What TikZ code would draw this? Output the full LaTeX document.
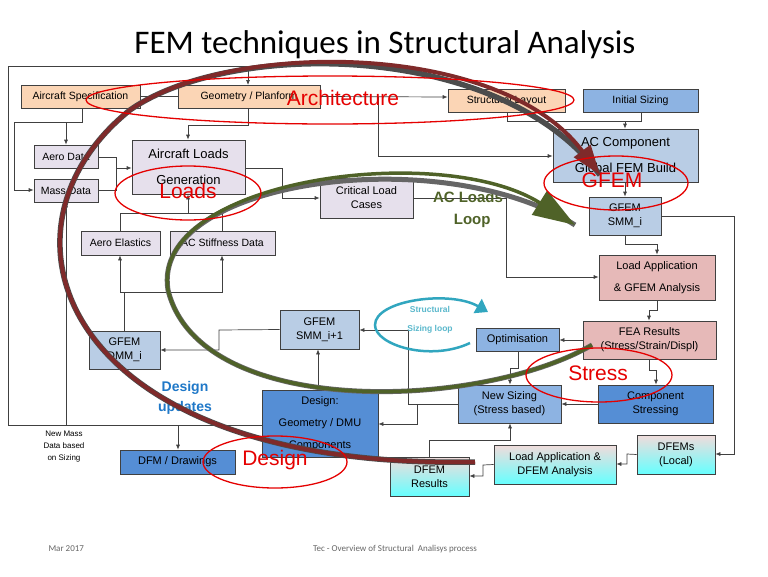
\documentclass[tikz,border=0pt]{standalone}
\usepackage{fontspec}
\setmainfont{Liberation Sans}
\newfontfamily\titlefont{Carlito}
\usetikzlibrary{arrows.meta}
\definecolor{peach}{HTML}{FBD5B5}
\definecolor{lav}{HTML}{E6E0EC}
\definecolor{lblue}{HTML}{B9CDE5}
\definecolor{mblue}{HTML}{8DB3E2}
\definecolor{dblue}{HTML}{558ED5}
\definecolor{pinkb}{HTML}{E6B9B8}
\definecolor{gradtop}{HTML}{F2DCDB}
\definecolor{gradbot}{HTML}{66FFFF}
\definecolor{brownarc}{HTML}{7F2A2A}
\definecolor{greenarc}{HTML}{4F6228}
\definecolor{teal}{HTML}{31A6BF}
\definecolor{dupd}{HTML}{1F78C8}
\newcommand\bx[7]{\node[bxs,#6,minimum width={(#4-#2)*1pt},minimum height={(#5-#3)*1pt}] (#1) at ({(#2+#4)/2},{(#3+#5)/2}) {#7};}
\tikzset{
 bxs/.style={draw=black!75,line width=0.7pt,inner sep=0pt,align=center,font=\fontsize{10.5}{14}\selectfont},
 ln/.style={draw=black!75,line width=0.7pt},
 ar/.style={ln,-{Latex[length=5pt,width=4pt]}},
 redell/.style={draw=red!90!black,line width=1.3pt},
 redtxt/.style={text=red!90!black,font=\fontsize{21}{21}\selectfont},
}
\begin{document}
\begin{tikzpicture}[x=1pt,y=-1pt]
\useasboundingbox (0,0) rectangle (768,576);
\fill[white] (0,0) rectangle (768,576);
\node[font=\titlefont\fontsize{33}{33}\selectfont] (title) at (385,45) {FEM techniques in Structural Analysis};
\node[font=\titlefont\fontsize{9}{9}\selectfont,text=black!60,anchor=west] (date) at (45,549) {Mar 2017};
\node[font=\titlefont\fontsize{9}{9}\selectfont,text=black!60] (foot) at (395,549) {Tec - Overview of Structural\ \ Analisys process};

% boxes
\bx{spec}{21}{85}{140}{108}{fill=peach}{Aircraft Specification}
\bx{geom}{178}{85}{320}{108}{fill=peach}{Geometry / Planform}
\bx{slay}{448}{89}{565}{112}{fill=peach}{Structural Layout}
\bx{isz}{583}{89}{698}{112}{fill=mblue}{Initial Sizing}
\bx{aero}{34}{145}{98}{168}{fill=lav}{Aero Data}
\bx{mass}{34}{179}{98}{202}{fill=lav}{Mass Data}
\bx{loads}{132}{140}{245}{194}{fill=lav,font=\fontsize{13}{26}\selectfont}{Aircraft Loads\\Generation}
\bx{clc}{320}{178}{413}{218}{fill=lav,font=\fontsize{11}{14}\selectfont}{Critical Load\\Cases}
\bx{ae}{81}{231}{160}{255}{fill=lav}{Aero Elastics}
\bx{acs}{170}{231}{275}{255}{fill=lav}{AC Stiffness Data}
\bx{acc}{553}{129}{698}{182}{fill=lblue,font=\fontsize{13}{26}\selectfont}{AC Component\\Global FEM Build}
\bx{smm}{589}{197}{661}{235}{fill=lblue,font=\fontsize{11}{14}\selectfont}{GFEM\\SMM\_i}
\bx{lapp}{599}{255}{715}{300}{fill=pinkb,font=\fontsize{11}{22}\selectfont}{Load Application\\\& GFEM Analysis}
\bx{smm1}{280}{310}{359}{349}{fill=lblue,font=\fontsize{11}{14}\selectfont}{GFEM\\SMM\_i+1}
\bx{dmm}{89}{331}{160}{369}{fill=lblue,font=\fontsize{11}{14}\selectfont}{GFEM\\DMM\_i}
\bx{opt}{476}{328}{559}{351}{fill=mblue,font=\fontsize{11}{14}\selectfont}{Optimisation}
\bx{fea}{583}{321}{716}{359}{fill=pinkb,font=\fontsize{11}{14}\selectfont}{FEA Results\\(Stress/Strain/Displ)}
\bx{nsz}{458}{385}{561}{423}{fill=mblue,font=\fontsize{11}{14}\selectfont}{New Sizing\\(Stress based)}
\bx{cst}{598}{385}{713}{423}{fill=dblue,font=\fontsize{11}{14}\selectfont}{Component\\Stressing}
\bx{des}{262}{390}{378}{457}{fill=dblue,font=\fontsize{11}{22}\selectfont}{Design:\\Geometry / DMU\\Components}
\bx{dfm}{120}{450}{235}{474}{fill=dblue,font=\fontsize{11}{14}\selectfont}{DFM / Drawings}
\bx{dfems}{637}{435}{715}{474}{top color=gradtop,bottom color=gradbot,font=\fontsize{11}{14}\selectfont}{DFEMs\\(Local)}
\bx{ladfem}{494}{445}{616}{484}{top color=gradtop,bottom color=gradbot,font=\fontsize{11}{14}\selectfont}{Load Application \&\\DFEM Analysis}
\bx{dfemr}{390}{457}{469}{496}{top color=gradtop,bottom color=gradbot,font=\fontsize{11}{14}\selectfont}{DFEM\\Results}

% connectors
\draw[ln] (spec.east) -- (geom.west);
\draw[ar] (des.west |- 0,425) -- (8,425) -- (8,66) -- (248,66) -- (248,85);
\draw[ar] (66,425) -- (mass.south -| 66,0);
\draw[ar] (178,425) -- (dfm.north -| 178,0);
\node[font=\fontsize{8}{12}\selectfont,align=center] (newmass) at (64,447) {New Mass\\Data based\\on Sizing};
\draw[ar] (82,108) -- (82,122) -- (66,122) -- (aero.north -| 66,0);
\draw[ar] (82,122) -- (14,122) -- (14,190) -- (mass.west |- 0,190);
\draw[ar] (248,108) -- (248,125) -- (188,125) -- (loads.north -| 188,0);
\draw[ar] (98,157) -- (116,157) -- (116,168) -- (loads.west |- 0,168);
\draw[ln] (98,190) -- (116,190) -- (116,168);
\draw[ar] (245,168) -- (282,168) -- (282,198) -- (clc.west |- 0,198);
\draw[ln] (ae.north -| 120,0) -- (120,213) -- (222,213) -- (acs.north -| 222,0);
\draw[ar] (188,213) -- (loads.south -| 188,0);
\draw[ar] (124,292) -- (120,292) -- (ae.south -| 120,0);
\draw[ar] (120,292) -- (222,292) -- (acs.south -| 222,0);
\draw[ln] (124,292) -- (dmm.north -| 124,0);
\draw[ar] (geom.east) -- (slay.west |- 0,97);
\draw[ar] (378,97) -- (378,156) -- (acc.west |- 0,156);
\draw[ln] (507,112) -- (507,121) -- (641,121) -- (641,112);
\draw[ar] (625,121) -- (acc.north -| 625,0);
\draw[ar] (acc.south -| 625,0) -- (smm.north -| 625,0);
\draw[ar] (625,235) -- (625,244) -- (657,244) -- (lapp.north -| 657,0);
\draw[ar] (smm.east) -- (734,216) -- (734,454) -- (dfems.east |- 0,454);
\draw[ar] (clc.east) -- (506,198) -- (506,277) -- (lapp.west |- 0,277);
\draw[ar] (657,300) -- (657,310) -- (649,310) -- (fea.north -| 649,0);
\draw[ar] (649,359) -- (649,370) -- (656,370) -- (cst.north -| 656,0);
\draw[ar] (fea.west) -- (opt.east |- fea.west);
\draw[ar] (518,351) -- (518,368) -- (510,368) -- (nsz.north -| 510,0);
\draw[ar] (cst.west) -- (nsz.east |- cst.west);
\draw[ar] (nsz.west) -- (408,404) -- (408,330) -- (smm1.east |- 0,330);
\draw[ar] (417,404) -- (417,424) -- (des.east |- 0,424);
\draw[ar] (des.north -| 318,0) -- (smm1.south -| 318,0);
\draw[ar] (smm1.west) -- (219,330) -- (219,350) -- (dmm.east |- 0,350);
\draw[ar] (dfemr.north -| 429,0) -- (429,440) -- (510,440) -- (nsz.south -| 510,0);
\draw[ar] (ladfem.west) -- (483,465) -- (483,476) -- (dfemr.east |- 0,476);
\draw[ar] (dfems.west) -- (627,454) -- (627,464) -- (ladfem.east |- 0,464);

% annotations
\node[font=\bfseries\fontsize{14}{20}\selectfont,text=dupd,align=center] (dupdt) at (185,398) {Design\\updates};
\node[font=\bfseries\fontsize{15}{22}\selectfont,text=greenarc,align=center] (acl) at (468,210) {AC Loads\\\ \ Loop};
\draw[teal,line width=2.5pt,-{Triangle[length=12pt,width=16pt]}] (470,343) .. controls (430,362) and (375,345) .. (375,325) .. controls (375,300) and (450,290) .. (488,312);
\node[font=\bfseries\fontsize{8.5}{19}\selectfont,text=teal!80,align=center] (ssl) at (430,320) {Structural\\Sizing loop};

\draw[black!60,line width=5pt] (592,345) .. controls (480,410) and (200,420) .. (168,290) .. controls (150,180) and (440,140) .. (575,225);
\draw[greenarc,line width=3.5pt,-{Triangle[length=42pt,width=28pt]}] (592,345) .. controls (480,410) and (200,420) .. (168,290) .. controls (150,180) and (440,140) .. (575,225);

\draw[black!70,line width=5.5pt] (475,462) .. controls (60,470) and (-20,230) .. (130,110) .. controls (230,40) and (500,40) .. (600,175);
\draw[brownarc,line width=4pt,-{Triangle[length=30pt,width=20pt]}] (475,462) .. controls (60,470) and (-20,230) .. (130,110) .. controls (230,40) and (500,40) .. (600,175);

\draw[redell] (330,100) ellipse [x radius=244,y radius=24];
\node[redtxt] (arch) at (343,98) {Architecture};
\draw[redell] (188,193) ellipse [x radius=73,y radius=27];
\node[redtxt] (loadst) at (188,191) {Loads};
\draw[redell] (616,183) ellipse [x radius=72,y radius=27];
\node[redtxt] (gfemt) at (612,180) {GFEM};
\draw[redell] (599,375) ellipse [x radius=73,y radius=27];
\node[redtxt] (stress) at (598,373) {Stress};
\draw[redell] (275,462) ellipse [x radius=72,y radius=26];
\node[redtxt] (design) at (275,460) {Design};
\end{tikzpicture}
\end{document}
